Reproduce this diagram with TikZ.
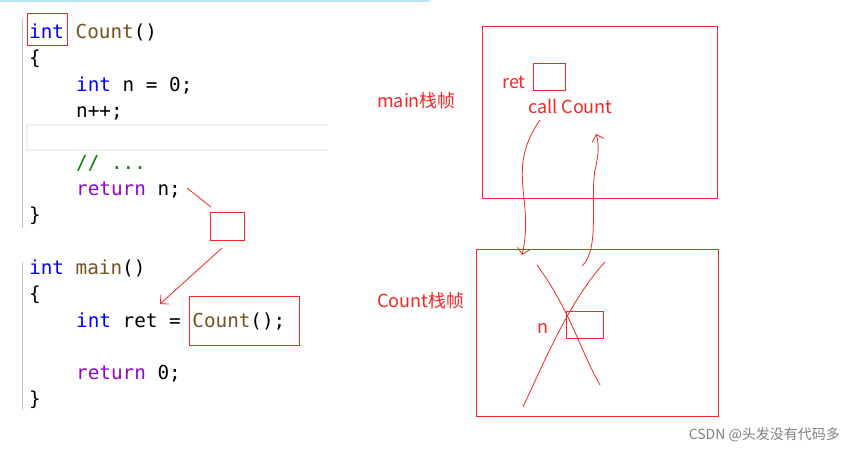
\documentclass[tikz,border=0pt]{standalone}
\usepackage{fontspec}
\usetikzlibrary{arrows.meta}
\setmonofont{DejaVu Sans Mono}
\newfontfamily\cjk{Noto Sans CJK SC}
\definecolor{kw}{RGB}{0,0,255}
\definecolor{fn}{RGB}{116,83,31}
\definecolor{pur}{RGB}{143,8,196}
\definecolor{cm}{RGB}{0,128,0}
\definecolor{rd}{RGB}{240,40,40}
\begin{document}
\begin{tikzpicture}[x=1pt,y=-1pt,
 code/.style={anchor=base west,inner sep=0pt,font=\ttfamily\fontsize{19.3}{19}\selectfont},
 lab/.style={inner sep=0pt,text=rd,font=\cjk\fontsize{18}{18}\selectfont},
 rbox/.style={draw=rd,line width=0.9pt},
 rline/.style={draw=rd,line width=0.8pt}]
\useasboundingbox (0,0) rectangle (854,454);
\fill[white] (0,0) rectangle (854,454);
\draw[cyan!30,line width=1.5pt] (0,1) -- (430,1);
\draw[gray!12,line width=1.5pt] (328,125) -- (27,125) -- (27,150) -- (328,150);
\draw[gray!45] (22,18) -- (22,228) (22,262) -- (22,410);
% code
\node[code] (l1) at (29,39) {\textcolor{kw}{int} \textcolor{fn}{Count}()};
\node[code] (l2) at (29,65) {\{};
\node[code] (l3) at (76,92) {\textcolor{kw}{int} n = 0;};
\node[code] (l4) at (76,118) {n++;};
\node[code] (l5) at (76,170) {\textcolor{cm}{// ...}};
\node[code] (l6) at (76,196) {\textcolor{pur}{return} n;};
\node[code] (l7) at (29,222) {\}};
\node[code] (l8) at (29,275) {\textcolor{kw}{int} \textcolor{fn}{main}()};
\node[code] (l9) at (29,301) {\{};
\node[code] (l10) at (76,327) {\textcolor{kw}{int} ret = \textcolor{fn}{Count}();};
\node[code] (l11) at (76,379) {\textcolor{pur}{return} 0;};
\node[code] (l12) at (29,405) {\}};
% red annotations on code
\draw[rbox] (27,13) rectangle (67,45);
\draw[rbox] (189,296) rectangle (299,345);
\node[rbox,minimum width=34pt,minimum height=28pt,inner sep=0pt] (tmp) at (227,226) {};
\coordinate (rn) at (187,188);
\coordinate (rt) at (160,304);
\draw[rline] (rn) -- (211,207);
\draw[rline,-{Straight Barb[length=6pt]}] (222,248) -- (rt);
% frames
\node[rbox,minimum width=235pt,minimum height=172pt,inner sep=0pt] (mainf) at (599.5,112) {};
\node[rbox,minimum width=242pt,minimum height=167pt,inner sep=0pt] (cntf) at (597,332.5) {};
\node[lab,anchor=west] (ml) at (377,101) {main栈帧};
\node[lab,anchor=west] (cl) at (377,301) {Count栈帧};
\node[lab,anchor=west] (ret) at (502,82) {ret};
\node[rbox,minimum width=32pt,minimum height=27pt,inner sep=0pt] (retb) at (549,76.5) {};
\node[lab,anchor=west] (call) at (528,106) {call Count};
\node[lab,anchor=west] (n) at (537,328) {n};
\node[rbox,minimum width=37pt,minimum height=27pt,inner sep=0pt] (nb) at (584.5,324.5) {};
% curves
\draw[rline,-{Straight Barb[length=6pt]}] (540,120) .. controls (505,170) and (535,200) .. (522,255);
\draw[rline,-{Straight Barb[length=6pt]}] (582,266) .. controls (600,250) and (590,200) .. (595,170) .. controls (600,150) and (598,140) .. (596,134);
% X
\draw[rline] (537,265) .. controls (570,310) and (580,350) .. (600,385);
\draw[rline] (605,262) .. controls (570,300) and (545,360) .. (523,407);
\node[anchor=east,inner sep=0pt,text=gray,font=\cjk\fontsize{14}{14}\selectfont] (wm) at (840,435) {CSDN @头发没有代码多};
\end{tikzpicture}
\end{document}
